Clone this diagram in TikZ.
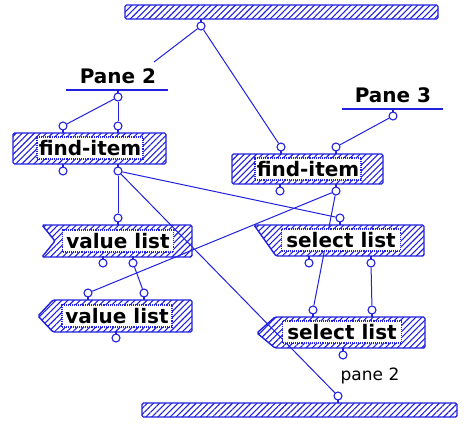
\documentclass[tikz,border=0pt]{standalone}
\usepackage{fontspec}
\setmainfont{DejaVu Sans}
\usetikzlibrary{patterns.meta}
\definecolor{macblue}{RGB}{32,32,222}
\def\inport(#1)(#2,#3){\draw[stem] (#2,#3) -- (#2,#3+7); \node[port] (#1) at (#2,#3) {};}
\def\outport(#1)(#2,#3){\draw[stem] (#2,#3) -- (#2,#3-7); \node[port] (#1) at (#2,#3) {};}
\tikzset{
	wire/.style={draw=macblue, line width=1pt},
	stem/.style={draw=macblue, line width=1.2pt},
	port/.style={circle, draw=macblue, fill=white, line width=1.1pt, inner sep=0pt, minimum size=8pt},
	shell/.style={draw=macblue, line width=1.4pt, rounded corners=1.5pt, pattern={Lines[angle=45,distance=4.3pt,line width=1.1pt]}, pattern color=macblue},
	opname/.style={fill=white, draw=macblue, densely dotted, line width=1.1pt, inner sep=0pt, minimum height=22pt, text=black, font=\fontsize{20}{24}\selectfont\bfseries},
	panelabel/.style={text=black, font=\fontsize{20}{24}\selectfont\bfseries}
}

\begin{document}
\begin{tikzpicture}[x=1pt, y=-1pt]
			%%%%% START %%%%%
			\useasboundingbox (0,0) rectangle (474,429);
			
			% ports
			\outport(topout)(201,26)
			\outport(p2out)(118,97)
			\outport(p3out)(393,116)
			\inport(f1in1)(63,126)
			\inport(f1in2)(118,126)
			\outport(f1out1)(63,171)
			\outport(f1out2)(118,171)
			\inport(f2in1)(281,147)
			\inport(f2in2)(336,147)
			\outport(f2out1)(280,191)
			\outport(f2out2)(336,191)
			\inport(v1in)(118,218)
			\outport(v1out1)(103,263)
			\outport(v1out2)(133,263)
			\inport(v2in1)(88,293)
			\inport(v2in2)(144,293)
			\outport(v2out)(116,338)
			\inport(s1in)(340,218)
			\outport(s1out1)(309,263)
			\outport(s1out2)(371,263)
			\inport(s2in1)(313,310)
			\inport(s2in2)(372,310)
			\outport(s2out)(343,355)
			\inport(botin)(338,396)
			\coordinate (p2feed) at (154,62);
			
			% pane labels
			\node[panelabel] (pane2) at (118,76) {Pane 2};
			\draw[stem] (66,90) -- (168,90);
			\node[panelabel] (pane3) at (393,95) {Pane 3};
			\draw[stem] (342,109) -- (443,109);
			\node[text=black, font=\fontsize{17}{20}\selectfont] (botname) at (370,376) {pane 2};
			
			% wires
			\draw[wire] (topout) -- (p2feed);
			\draw[wire] (topout) -- (f2in1);
			\draw[wire] (p2out) -- (f1in1);
			\draw[wire] (p2out) -- (f1in2);
			\draw[wire] (p3out) -- (f2in2);
			\draw[wire] (f1out2) -- (v1in);
			\draw[wire] (f1out2) -- (s1in);
			\draw[wire] (f1out2) -- (botin);
			\draw[wire] (f2out2) -- (v2in1);
			\draw[wire] (f2out2) -- (s2in1);
			\draw[wire] (v1out2) -- (v2in2);
			\draw[wire] (s1out2) -- (s2in2);
			
			% bars
			\draw[shell] (125,5) rectangle (438,19);
			\draw[shell] (142,403) rectangle (457,417);
			
			% find-item boxes
			\draw[shell] (13,133) rectangle (166,164);
			\node[opname, minimum width=106pt] (find1) at (90,148) {find-item};
			\draw[shell] (232,154) rectangle (383,184);
			\node[opname, minimum width=106pt] (find2) at (308,169) {find-item};
			
			% value list boxes
			\draw[shell] (42,225) -- (55,241) -- (42,257) -- (192,257) -- (192,225) -- cycle;
			\node[opname, minimum width=111pt] (value1) at (118,241) {value list};
			\draw[shell] (38,316) -- (53,300) -- (192,300) -- (192,332) -- (53,332) -- cycle;
			\node[opname, minimum width=110pt] (value2) at (117,316) {value list};
			
			% select list boxes
			\draw[shell] (254,225) -- (424,225) -- (424,256) -- (276,256) -- cycle;
			\node[opname, minimum width=119pt] (select1) at (341,240) {select list};
			\draw[shell] (257,333) -- (275,317) -- (425,317) -- (425,348) -- (275,348) -- cycle;
			\node[opname, minimum width=119pt] (select2) at (342,332) {select list};
			
			%%%%% END %%%%%
\end{tikzpicture}
\end{document}
